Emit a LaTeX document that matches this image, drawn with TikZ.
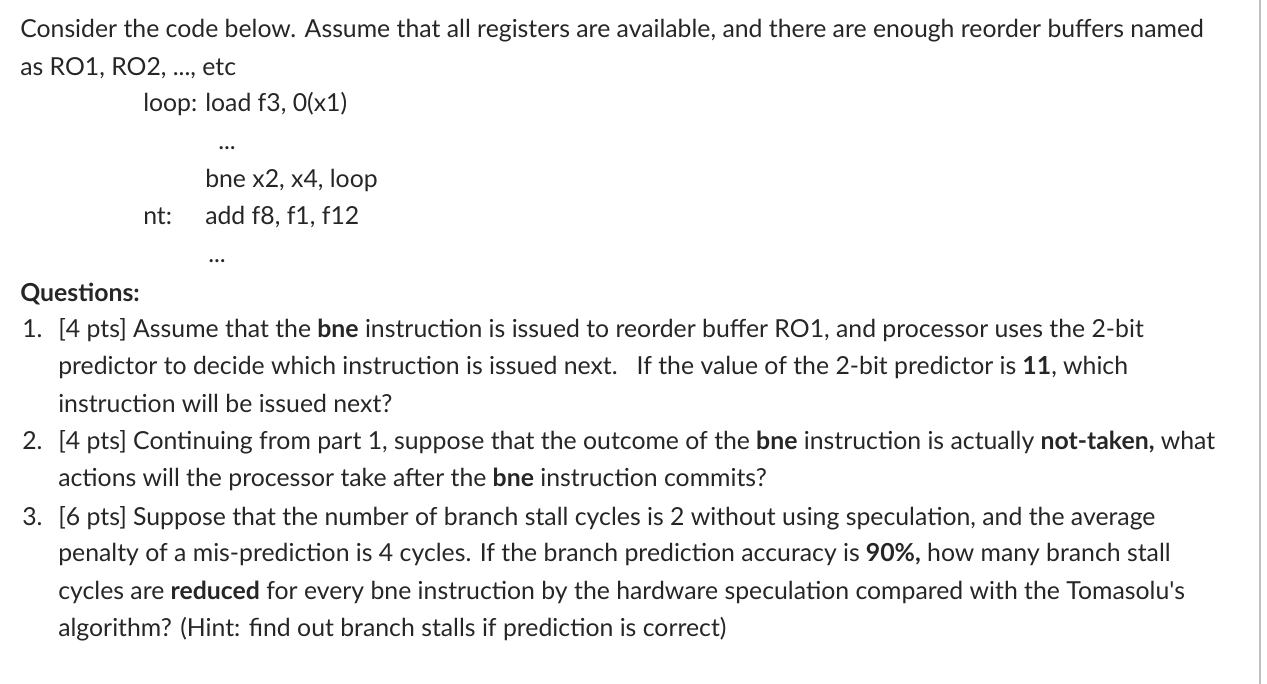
\documentclass[tikz,border=0pt]{standalone}
\usepackage{fontspec}
\setmainfont{Lato}
\begin{document}
\begin{tikzpicture}[x=0.75pt,y=-0.75pt,
  t/.style={anchor=base west,inner sep=0pt,font=\fontsize{18.6}{22}\selectfont,text=black!85}]
\useasboundingbox (0,0) rectangle (1267,684);
\draw[black!25,line width=1.5pt] (1260,0) -- (1260,684);
\node[t] (l1) at (20,38) {Consider the code below. Assume that all registers are available, and there are enough reorder buffers named};
\node[t] (l2) at (20,76) {as RO1, RO2, ..., etc};
\node[t] (c1a) at (143,112) {loop:};
\node[t] (c1b) at (205,112) {load f3, 0(x1)};
\node[t] (c2) at (218,150) {...};
\node[t] (c3) at (205,188) {bne x2, x4, loop};
\node[t] (c4a) at (143,225) {nt:};
\node[t] (c4b) at (205,225) {add f8, f1, f12};
\node[t] (c5) at (208,263) {...};
\node[t] (q) at (20,301) {\textbf{Questions:}};
\node[t] (n1) at (22,337) {1.};
\node[t] (a1) at (58,337) {[4 pts] Assume that the \textbf{bne} instruction is issued to reorder buffer RO1, and processor uses the 2-bit};
\node[t] (a2) at (58,374) {predictor to decide which instruction is issued next.\ \ \ If the value of the 2-bit predictor is \textbf{11}, which};
\node[t] (a3) at (58,412) {instruction will be issued next?};
\node[t] (n2) at (22,449) {2.};
\node[t] (b1) at (58,449) {[4 pts] Continuing from part 1, suppose that the outcome of the \textbf{bne} instruction is actually \textbf{not-taken,} what};
\node[t] (b2) at (58,486) {actions will the processor take after the \textbf{bne} instruction commits?};
\node[t] (n3) at (22,525) {3.};
\node[t] (d1) at (58,525) {[6 pts] Suppose that the number of branch stall cycles is 2 without using speculation, and the average};
\node[t] (d2) at (58,561) {penalty of a mis-prediction is 4 cycles. If the branch prediction accuracy is \textbf{90\%,} how many branch stall};
\node[t] (d3) at (58,599) {cycles are \textbf{reduced} for every bne instruction by the hardware speculation compared with the Tomasolu\textquotesingle s};
\node[t] (d4) at (58,636) {algorithm? (Hint: find out branch stalls if prediction is correct)};
\end{tikzpicture}
\end{document}
